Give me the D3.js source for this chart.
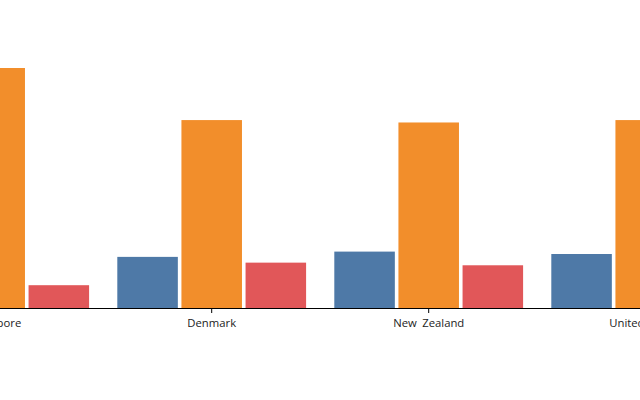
<!DOCTYPE html>
<html>
<head>
<meta charset="utf-8">
<script src="https://cdn.jsdelivr.net/npm/d3@7"></script>
<style>
  html, body { margin: 0; padding: 0; background: #fff; }
  svg { display: block; }
</style>
</head>
<body>
<svg id="chart" width="640" height="400"></svg>
<script>
const categories = ["Singapore", "Denmark", "New Zealand", "United States"];
const seriesNames = ["Series A", "Series B", "Series C"];
const seriesA = [2.6, 2.13, 2.35, 2.25];
const seriesB = [10.0, 7.83, 7.73, 7.83];
const seriesC = [0.95, 1.89, 1.78, 1.8];
const seriesColors = ["#4e79a7", "#f28e2b", "#e15759"];

const seriesValues = [seriesA, seriesB, seriesC];
const rows = categories.map((c, i) => ({
  category: c,
  values: seriesNames.map((s, j) => ({ key: s, value: seriesValues[j][i] }))
}));

const svg = d3.select("#chart");
const baseline = 308;

const x0 = d3.scaleBand()
  .domain(categories)
  .range([-113.8, 754.2])
  .paddingInner(0.13)
  .paddingOuter(0.065);

const x1 = d3.scaleBand()
  .domain(seriesNames)
  .range([0, x0.bandwidth()])
  .paddingInner(0.056)
  .paddingOuter(0);

const y = d3.scaleLinear().domain([0, 10]).range([baseline, 68]);
const color = d3.scaleOrdinal().domain(seriesNames).range(seriesColors);

const groups = svg.append("g").selectAll("g")
  .data(rows)
  .join("g")
  .attr("transform", d => `translate(${x0(d.category)},0)`);

groups.selectAll("rect")
  .data(d => d.values)
  .join("rect")
  .attr("x", d => x1(d.key))
  .attr("width", x1.bandwidth())
  .attr("y", d => y(d.value))
  .attr("height", d => baseline - y(d.value))
  .attr("fill", d => color(d.key));

const axis = svg.append("g")
  .attr("transform", `translate(0,${baseline})`)
  .call(d3.axisBottom(x0).tickSize(5).tickSizeOuter(0).tickPadding(6));

axis.select(".domain").attr("stroke", "#000");
axis.selectAll(".tick line").attr("stroke", "#000");
axis.selectAll(".tick text")
  .attr("font-family", "'Open Sans', sans-serif")
  .attr("font-size", "11.3px")
  .attr("word-spacing", "2.5px")
  .attr("fill", "#222");
</script>
</body>
</html>
